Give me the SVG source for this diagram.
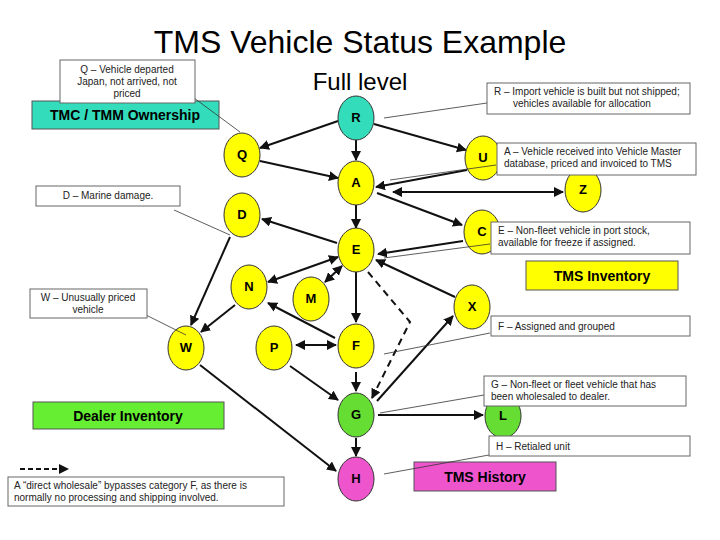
<svg xmlns="http://www.w3.org/2000/svg" width="720" height="540" viewBox="0 0 720 540">
<style>
.n ellipse{stroke:#333;stroke-width:1}
.n text{font:bold 13px "Liberation Sans",Arial,sans-serif;text-anchor:middle}
.y{fill:#ffff00}.t{fill:#33ddbb}.g{fill:#66dd33}.p{fill:#ee55cc}
.c line,.c path{stroke:#111;stroke-width:2;fill:none}
.box{fill:#fff;stroke:#666;stroke-width:1}
.bt{font:10px "Liberation Sans",Arial,sans-serif;fill:#222}
.ln{stroke:#333;stroke-width:0.8}
.lab{font:bold 14px "Liberation Sans",Arial,sans-serif;text-anchor:middle}
</style>
<defs><marker id="a" viewBox="0 0 10 10" refX="9" refY="5" markerWidth="5" markerHeight="5" orient="auto-start-reverse"><path d="M0,0L10,5L0,10z" fill="#111"/></marker></defs>
<text x="360" y="53" font-family="Liberation Sans,Arial,sans-serif" font-size="32" text-anchor="middle">TMS Vehicle Status Example</text>
<text x="360" y="90" font-family="Liberation Sans,Arial,sans-serif" font-size="24" text-anchor="middle">Full level</text>
<rect x="32" y="101" width="187" height="28" fill="#33ddbb" stroke="#555"/><text class="lab" x="125" y="120">TMC / TMM Ownership</text>
<rect x="526" y="261" width="152" height="29" fill="#ffff00" stroke="#555"/><text class="lab" x="602" y="281">TMS Inventory</text>
<rect x="33" y="402" width="191" height="27" fill="#66ee33" stroke="#555"/><text class="lab" x="128" y="421">Dealer Inventory</text>
<rect x="414" y="462" width="142" height="29" fill="#ee55cc" stroke="#555"/><text class="lab" x="485" y="482">TMS History</text>
<g class="c">
<line x1="338" y1="121" x2="260" y2="148" marker-end="url(#a)"/>
<line x1="356" y1="140" x2="356" y2="160" marker-end="url(#a)"/>
<line x1="374" y1="124" x2="466" y2="150" marker-end="url(#a)"/>
<line x1="260" y1="161" x2="338" y2="178" marker-end="url(#a)"/>
<line x1="467" y1="170" x2="376" y2="187" marker-end="url(#a)"/>
<line x1="393" y1="192" x2="563" y2="192" marker-start="url(#a)" marker-end="url(#a)"/>
<line x1="377" y1="193" x2="462" y2="225" marker-end="url(#a)"/>
<line x1="356" y1="205" x2="356" y2="228" marker-end="url(#a)"/>
<line x1="463" y1="241" x2="378" y2="254" marker-end="url(#a)"/>
<line x1="337" y1="243" x2="262" y2="219" marker-end="url(#a)"/>
<line x1="338" y1="257" x2="268" y2="282" marker-start="url(#a)" marker-end="url(#a)"/>
<line x1="342" y1="266" x2="325" y2="282" marker-start="url(#a)" marker-end="url(#a)"/>
<line x1="455" y1="297" x2="376" y2="260" marker-end="url(#a)"/>
<line x1="356" y1="272" x2="356" y2="322" marker-end="url(#a)"/>
<line x1="230" y1="237" x2="191" y2="325" marker-end="url(#a)"/>
<line x1="235" y1="305" x2="201" y2="332" marker-end="url(#a)"/>
<line x1="335" y1="338" x2="268" y2="303" marker-end="url(#a)"/>
<line x1="296" y1="345" x2="336" y2="345" marker-start="url(#a)" marker-end="url(#a)"/>
<line x1="356" y1="372" x2="356" y2="391" marker-end="url(#a)"/>
<line x1="290" y1="366" x2="338" y2="400" marker-end="url(#a)"/>
<line x1="377" y1="401" x2="453" y2="316" marker-end="url(#a)"/>
<path d="M368,272L410,322L372,398" stroke-dasharray="7,5" marker-end="url(#a)"/>
<line x1="378" y1="415" x2="483" y2="415" marker-end="url(#a)"/>
<line x1="356" y1="438" x2="356" y2="456" marker-end="url(#a)"/>
<line x1="200" y1="365" x2="336" y2="471" marker-end="url(#a)"/>
<line x1="20" y1="469" x2="68" y2="469" stroke-dasharray="5,3" stroke-width="1.5" marker-end="url(#a)"/>
</g>
<g id="nR" class="n"><ellipse class="t" cx="356" cy="118" rx="18" ry="22"/><text x="356" y="122">R</text></g>
<g id="nQ" class="n"><ellipse class="y" cx="242" cy="155" rx="18" ry="22"/><text x="242" y="159">Q</text></g>
<g id="nA" class="n"><ellipse class="y" cx="356" cy="183" rx="18" ry="22"/><text x="356" y="187">A</text></g>
<g id="nU" class="n"><ellipse class="y" cx="483" cy="158" rx="18" ry="22"/><text x="483" y="162">U</text></g>
<g id="nZ" class="n"><ellipse class="y" cx="583" cy="190" rx="18" ry="22"/><text x="583" y="194">Z</text></g>
<g id="nD" class="n"><ellipse class="y" cx="242" cy="215" rx="18" ry="22"/><text x="242" y="219">D</text></g>
<g id="nC" class="n"><ellipse class="y" cx="482" cy="232" rx="18" ry="22"/><text x="482" y="236">C</text></g>
<g id="nE" class="n"><ellipse class="y" cx="356" cy="250" rx="18" ry="22"/><text x="356" y="254">E</text></g>
<g id="nN" class="n"><ellipse class="y" cx="249" cy="287" rx="18" ry="22"/><text x="249" y="291">N</text></g>
<g id="nM" class="n"><ellipse class="y" cx="311" cy="299" rx="18" ry="22"/><text x="311" y="303">M</text></g>
<g id="nX" class="n"><ellipse class="y" cx="472" cy="307" rx="18" ry="22"/><text x="472" y="311">X</text></g>
<g id="nW" class="n"><ellipse class="y" cx="186" cy="348" rx="18" ry="22"/><text x="186" y="352">W</text></g>
<g id="nP" class="n"><ellipse class="y" cx="274" cy="348" rx="18" ry="22"/><text x="274" y="352">P</text></g>
<g id="nF" class="n"><ellipse class="y" cx="356" cy="346" rx="18" ry="22"/><text x="356" y="350">F</text></g>
<g id="nG" class="n"><ellipse class="g" cx="356" cy="415" rx="18" ry="22"/><text x="356" y="419">G</text></g>
<g id="nL" class="n"><ellipse class="g" cx="503" cy="416" rx="18" ry="22"/><text x="503" y="420">L</text></g>
<g id="nH" class="n"><ellipse class="p" cx="356" cy="479" rx="18" ry="22"/><text x="356" y="483">H</text></g>
<g id="notes">
<line class="ln" x1="190" y1="95" x2="240" y2="132"/>
<rect class="box" x="60" y="60" width="135" height="43"/>
<text class="bt" text-anchor="middle"><tspan x="127" y="73">Q –  Vehicle departed</tspan><tspan x="127" y="85">Japan, not arrived, not</tspan><tspan x="127" y="97">priced</tspan></text>
<line class="ln" x1="174" y1="210" x2="230" y2="235"/>
<rect class="box" x="36" y="186" width="144" height="20"/><text class="bt" x="108" y="199" text-anchor="middle">D –  Marine damage.</text>
<line class="ln" x1="140" y1="312" x2="186" y2="335"/>
<rect class="box" x="30" y="289" width="117" height="29"/>
<text class="bt" text-anchor="middle"><tspan x="88" y="301">W –  Unusually priced</tspan><tspan x="88" y="313">vehicle</tspan></text>
<line class="ln" x1="487" y1="103" x2="384" y2="118"/>
<rect class="box" x="487" y="83" width="203" height="31"/>
<text class="bt"><tspan x="494" y="95">R – Import vehicle is built but not shipped;</tspan><tspan x="513" y="107">vehicles available for allocation</tspan></text>
<line class="ln" x1="496" y1="165" x2="390" y2="180"/>
<rect class="box" x="497" y="143" width="199" height="32"/>
<text class="bt"><tspan x="504" y="155">A –  Vehicle received into Vehicle Master</tspan><tspan x="504" y="167">database, priced and invoiced to TMS</tspan></text>
<line class="ln" x1="490" y1="244" x2="384" y2="258"/>
<rect class="box" x="491" y="222" width="199" height="32"/>
<text class="bt"><tspan x="498" y="234">E –  Non-fleet vehicle in port stock,</tspan><tspan x="498" y="246">available for freeze if assigned.</tspan></text>
<line class="ln" x1="490" y1="333" x2="384" y2="354"/>
<rect class="box" x="491" y="316" width="199" height="20"/><text class="bt" x="498" y="330">F –  Assigned and grouped</text>
<line class="ln" x1="484" y1="395" x2="380" y2="413"/>
<rect class="box" x="484" y="376" width="202" height="30"/>
<text class="bt"><tspan x="491" y="388">G –  Non-fleet or fleet vehicle that has</tspan><tspan x="491" y="400">been wholesaled to dealer.</tspan></text>
<line class="ln" x1="489" y1="455" x2="384" y2="474"/>
<rect class="box" x="489" y="436" width="201" height="20"/><text class="bt" x="496" y="450">H –  Retialed unit</text>
<rect class="box" x="8" y="477" width="276" height="29"/>
<text class="bt"><tspan x="14" y="489">A “direct wholesale” bypasses category F, as there is</tspan><tspan x="14" y="501">normally no processing and shipping involved.</tspan></text>
</g>
</svg>
